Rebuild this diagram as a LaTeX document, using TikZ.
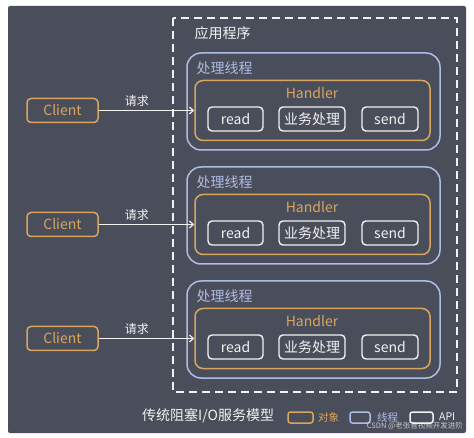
\documentclass[tikz,border=0pt]{standalone}
\usepackage{fontspec}
\setmainfont{Noto Sans CJK SC}
\usetikzlibrary{arrows.meta}
\definecolor{panel}{HTML}{4A4E5A}
\definecolor{objcol}{HTML}{D9A55F}
\definecolor{thrcol}{HTML}{AEBDE6}
\definecolor{apicol}{HTML}{F2F2F2}
\def\fs#1{\fontsize{#1}{#1}\selectfont}
\tikzset{
	threadbox/.style={draw=thrcol, line width=1.5pt, rounded corners=14pt, minimum width=253pt, minimum height=97pt, inner sep=0pt},
	handlerbox/.style={draw=objcol, line width=1.5pt, rounded corners=8pt, minimum width=235pt, minimum height=60pt, inner sep=0pt},
	apibox/.style={draw=apicol, line width=1.4pt, rounded corners=4pt, minimum height=24pt, inner sep=0pt, text=apicol, font=\fs{14}},
	clientbox/.style={draw=objcol, line width=1.5pt, rounded corners=4pt, minimum width=71pt, minimum height=24pt, inner sep=0pt, text=objcol, font=\fs{14}},
	reqline/.style={draw=apicol, line width=1.2pt, -{Straight Barb[length=4pt,width=7pt]}},
	keybox/.style={line width=1.5pt, rounded corners=2.5pt, minimum width=25pt, minimum height=11pt, inner sep=0pt},
}

\begin{document}
\begin{tikzpicture}[x=1pt, y=-1pt]
			%%%%% START %%%%%
			\useasboundingbox (0, 0) rectangle (474, 438);
			\fill[panel, rounded corners=2pt] (8, 6) rectangle (466, 433);
			
			% application frame
			\draw[apicol, line width=1.6pt, dash pattern=on 8pt off 5pt] (173, 18) rectangle (457, 392);
			\node[anchor=west, text=apicol, font=\fs{14}] (app) at (191, 33) {应用程序};
			
			% row 1
			\node[threadbox] (t1) at (313.5, 101.5) {};
			\node[anchor=west, text=thrcol, font=\fs{14}] (tl1) at (193, 68) {处理线程};
			\node[handlerbox] (h1) at (312.5, 110.5) {};
			\node[text=objcol, font=\fs{14}] (hl1) at (312, 93) {Handler};
			\node[apibox, minimum width=55pt] (r1) at (235.5, 119) {read};
			\node[apibox, minimum width=66pt] (b1) at (312, 119) {业务处理};
			\node[apibox, minimum width=56pt] (s1) at (390, 119) {send};
			\node[clientbox] (c1) at (62.5, 110.5) {Client};
			\draw[reqline] (c1.east) -- node[above, pos=0.4, text=apicol, font=\fs{12}] (q1) {请求} (h1.west);
			
			% row 2
			\node[threadbox] (t2) at (313.5, 215.5) {};
			\node[anchor=west, text=thrcol, font=\fs{14}] (tl2) at (193, 182) {处理线程};
			\node[handlerbox] (h2) at (312.5, 224.5) {};
			\node[text=objcol, font=\fs{14}] (hl2) at (312, 207) {Handler};
			\node[apibox, minimum width=55pt] (r2) at (235.5, 233) {read};
			\node[apibox, minimum width=66pt] (b2) at (312, 233) {业务处理};
			\node[apibox, minimum width=56pt] (s2) at (390, 233) {send};
			\node[clientbox] (c2) at (62.5, 224.5) {Client};
			\draw[reqline] (c2.east) -- node[above, pos=0.4, text=apicol, font=\fs{12}] (q2) {请求} (h2.west);
			
			% row 3
			\node[threadbox] (t3) at (313.5, 329.5) {};
			\node[anchor=west, text=thrcol, font=\fs{14}] (tl3) at (193, 296) {处理线程};
			\node[handlerbox] (h3) at (312.5, 338.5) {};
			\node[text=objcol, font=\fs{14}] (hl3) at (312, 321) {Handler};
			\node[apibox, minimum width=55pt] (r3) at (235.5, 347) {read};
			\node[apibox, minimum width=66pt] (b3) at (312, 347) {业务处理};
			\node[apibox, minimum width=56pt] (s3) at (390, 347) {send};
			\node[clientbox] (c3) at (62.5, 338.5) {Client};
			\draw[reqline] (c3.east) -- node[above, pos=0.4, text=apicol, font=\fs{12}] (q3) {请求} (h3.west);
			
			% legend
			\node[anchor=west, text=apicol, font=\fs{14}, inner sep=0pt] (title) at (142, 416) {传统阻塞I/O服务模型};
			\node[keybox, draw=objcol] (kobj) at (300.5, 417.5) {};
			\node[anchor=west, text=objcol, font=\fs{10.5}, inner sep=0pt] (lobj) at (318, 417) {对象};
			\node[keybox, draw=thrcol, minimum width=20pt] (kthr) at (360, 417.5) {};
			\node[anchor=west, text=thrcol, font=\fs{10.5}, inner sep=0pt] (lthr) at (377, 417) {线程};
			\node[keybox, draw=apicol, minimum width=23pt] (kapi) at (421.5, 417.5) {};
			\node[anchor=west, text=apicol, font=\fs{10.5}, inner sep=0pt] (lapi) at (439, 417) {API};
			\node[anchor=east, text=apicol, opacity=0.75, font=\fs{7.5}, inner sep=0pt] (mark) at (463, 426) {CSDN @老张音视频开发进阶};
			
			%%%%% END %%%%%
\end{tikzpicture}
\end{document}
